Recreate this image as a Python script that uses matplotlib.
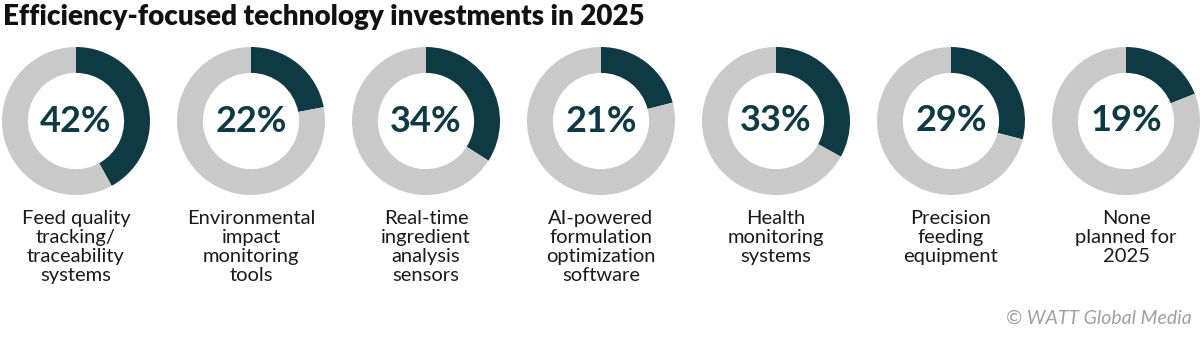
import matplotlib.pyplot as plt

plt.rcParams['font.family'] = ['Lato', 'DejaVu Sans']

pcts = [42, 22, 34, 21, 33, 29, 19]
labels = [
    "Feed quality\ntracking/\ntraceability\nsystems",
    "Environmental\nimpact\nmonitoring\ntools",
    "Real-time\ningredient\nanalysis\nsensors",
    "AI-powered\nformulation\noptimization\nsoftware",
    "Health\nmonitoring\nsystems",
    "Precision\nfeeding\nequipment",
    "None\nplanned for\n2025",
]
title = "Efficiency-focused technology investments in 2025"

dark = "#0f3a43"
grey = "#c9c9c9"

W, H = 1200, 343
fig = plt.figure(figsize=(W / 100, H / 100), dpi=100)

# donut centers in pixels
cx0, step, cy, r = 76, 175, 121, 74

for i, (p, lab) in enumerate(zip(pcts, labels)):
    cx = cx0 + i * step
    ax = fig.add_axes([(cx - r) / W, (H - cy - r) / H, 2 * r / W, 2 * r / H])
    ax.pie([p, 100 - p], colors=[dark, grey], startangle=90, counterclock=False,
           wedgeprops=dict(width=0.35, linewidth=0), radius=1)
    ax.set_xlim(-1, 1)
    ax.set_ylim(-1, 1)
    ax.set_aspect('equal')
    ax.text(0, 0, f"{p}%", ha='center', va='center', fontsize=26,
            fontweight='bold', color=dark)
    fig.text(cx / W, 1 - 210 / H, lab, ha='center', va='top', fontsize=14.5,
             fontweight='normal', color='#1a1a1a', linespacing=1.15)

fig.text(3 / W, 1 - 17 / H, title, ha='left', va='center', fontsize=20,
         fontweight='heavy', color='#111111')
fig.text(1192 / W, 1 - 318 / H, "© WATT Global Media", ha='right', va='center',
         fontsize=14, style='italic', fontweight='normal', color='#a0a0a0')

fig.savefig("out.png", dpi=100)
